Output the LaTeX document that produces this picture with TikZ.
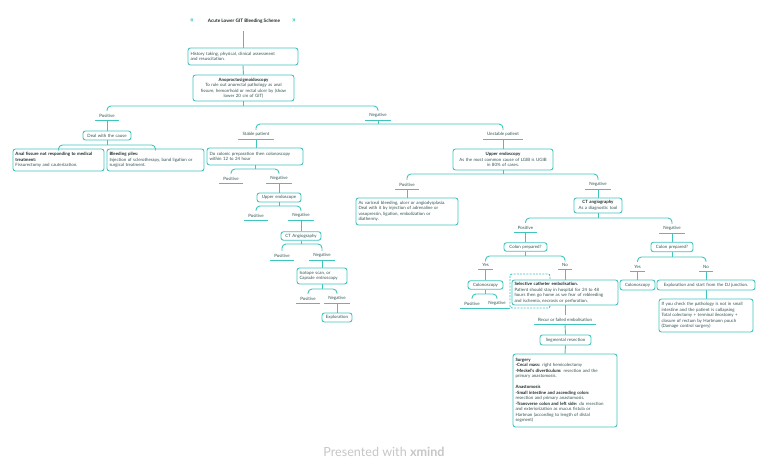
\documentclass[tikz,border=0pt]{standalone}
\usepackage{fontspec}
\setmainfont{Lato}
\usetikzlibrary{calc}
\definecolor{tl}{RGB}{64,196,190}
\definecolor{tx}{RGB}{52,84,84}
\definecolor{tb}{RGB}{28,42,42}
\newcommand{\fs}{\fontsize{4.4}{5.5}\selectfont}
\newcommand{\hb}[1]{\textbf{\color{tb}#1}}
\newcommand{\stem}[2]{\draw[conn] (#1.south) -- (#1.south |- #2);}
\newcommand{\fork}[3]{\draw[conn] (#1.south |- #2) -| (#3.north);}
\tikzset{
 conn/.style={draw=tl, line width=0.9pt, rounded corners=4pt},
 bx/.style={draw=tl, line width=0.9pt, rounded corners=2.5pt, fill=white, font=\fs, text=tx, inner xsep=2.5pt, inner ysep=1.5pt},
 bxl/.style 2 args={bx, text width=#1-5pt, minimum height=#2, align=left},
 bxc/.style 2 args={bx, text width=#1-5pt, minimum height=#2, align=center},
 ulbl/.style={font=\fs, text=tx, inner xsep=4pt, inner ysep=0pt, minimum height=9pt,
   append after command={(\tikzlastnode.south west) edge[draw=tl,line width=0.9pt] (\tikzlastnode.south east)}},
}
\begin{document}
\begin{tikzpicture}[x=1pt,y=-1pt]
\fill[white] (0,0) rectangle (768,473);
\useasboundingbox (0,0) rectangle (768,473);
% title
\node[font=\fontsize{4.7}{5.5}\selectfont\bfseries, text=tb] (title) at (244,21) {Acute Lower GIT Bleeding Scheme};
\node[font=\fontsize{8}{8}\selectfont\bfseries, text=tl] (ql) at (192,21) {«};
\node[font=\fontsize{8}{8}\selectfont\bfseries, text=tl] (qr) at (294,21) {»};
\coordinate (tbot) at (243,31);
% boxes
\node[bxl={110pt}{17pt}] (hist) at (243,56.5) {History taking, physical, clinical assessment\\and resuscitation.};
\node[bxc={101pt}{26pt}] (ano) at (243.5,88) {\hb{Anoproctosigmoidoscopy}\\To rule out anorectal pathology as anal\\fissure, hemorrhoid or rectal ulcer by (show\\lower 20 cm of GIT)};
\node[bxc={48pt}{9pt}] (deal) at (107,135.5) {Deal with the cause};
\node[bxl={91pt}{22pt}] (fiss) at (58.5,160) {\hb{Anal fissure not responding to medical}\\\hb{treatment:}\\Fissurectomy and cauterization.};
\node[bxl={97pt}{22pt}] (piles) at (155.5,160) {\hb{Bleeding piles:}\\Injection of sclerotherapy, band ligation or\\surgical treatment.};
\node[bxl={96pt}{17pt}] (colprep) at (255,156.5) {Do colonic preparation then colonoscopy\\within 12 to 24 hour};
\node[bxc={44pt}{9pt}] (upend) at (279,197.5) {Upper endoscope};
\node[bxc={40pt}{8.5pt}] (ctA) at (301,236) {CT Angiography};
\node[bxl={50pt}{16pt}] (iso) at (322,276) {Isotope scan, or\\Capsule entroscopy};
\node[bxc={30pt}{9pt}] (expl) at (337,317.5) {Exploration};
\node[bxc={100pt}{21pt}] (uendo) at (503,159.5) {\hb{Upper endoscopy}\\As the most common cause of LGIB is UGIB\\in 80\% of cases.};
\node[bxl={102pt}{27pt}] (vari) at (407,211.5) {As variceal bleeding, ulcer or angiodysplasia.\\Deal with it by injection of adrenaline or\\vasopressin, ligation, embolization or\\diathermy.};
\node[bxc={48pt}{15pt}] (cta2) at (598,205.5) {\hb{CT angiography}\\As a diagnostic tool};
\node[bxc={43pt}{8.5pt}] (colp1) at (525.5,247) {Colon prepared?};
\node[bxc={35pt}{8.5pt}] (colo1) at (485.5,285) {Colonoscopy};
\draw[draw=tl, line width=0.9pt, dash pattern=on 2pt off 1.2pt, rounded corners=2pt] (510,274) rectangle (550,308);
\node[bxl={106pt}{25pt}] (sel) at (565,292.5) {\hb{Selective catheter embolisation.}\\Patient should stay in hospital for 24 to 48\\hours then go home as we fear of rebleeding\\and ischemia, necrosis or perforation.};
\node[bxc={51pt}{10pt}] (seg) at (565.5,340) {Segmental resection};
\node[bxl={104pt}{73pt}] (surg) at (565,390.5) {\hb{Surgery}\\\hb{-Cecal mass:} right hemicolectomy\\\hb{-Meckel's diverticulum:} resection and the\\primary anastomosis.\\[5.5pt]\hb{Anastomosis}\\\hb{-Small intestine and ascending colon:}\\resection and primary anastomosis.\\\hb{-Transverse colon and left side:} do resection\\and exteriorization as mucus fistula or\\Hartman (according to length of distal\\segment)};
\node[bxc={42pt}{9.5pt}] (colp2) at (672,247) {Colon prepared?};
\node[bxc={35pt}{10pt}] (colo2) at (637.5,285) {Colonoscopy};
\node[bxc={98pt}{10pt}] (explDJ) at (706,285) {Exploration and start from the DJ junction.};
\node[bxl={94pt}{33pt}] (ifyou) at (706,315.5) {If you check the pathology is not in small\\intestine and the patient is collapsing\\Total colectomy + terminal ileostomy +\\closure of rectum by Hartmann pouch\\(Damage control surgery)};
% labels (center x, underline y - 4.5)
\node[ulbl] (posA) at (107,115.5) {Positive};
\node[ulbl] (negA) at (378,115.5) {Negative};
\node[ulbl] (stable) at (256,134.5) {Stable patient};
\node[ulbl] (unstable) at (503,134.5) {Unstable patient};
\node[ulbl] (posB) at (231,178.5) {Positive};
\node[ulbl] (negB) at (279,178.5) {Negative};
\node[ulbl] (posC) at (256,215.5) {Positive};
\node[ulbl] (negC) at (301,215.5) {Negative};
\node[ulbl] (posD) at (282,255.5) {Positive};
\node[ulbl] (negD) at (322,255.5) {Negative};
\node[ulbl] (posE) at (308,298.5) {Positive};
\node[ulbl] (negE) at (337,298.5) {Negative};
\node[ulbl] (posF) at (407,184.5) {Positive};
\node[ulbl] (negF) at (598,184.5) {Negative};
\node[ulbl] (posG) at (525.5,227.5) {Positive};
\node[ulbl] (negG) at (672,228.5) {Negative};
\node[ulbl] (yesH) at (485.5,264.5) {Yes};
\node[ulbl] (noH) at (565,264.5) {No};
\node[ulbl] (posI) at (472,303.5) {Positive};
\node[ulbl] (negI) at (497,303.5) {Negative};
\node[ulbl] (recur) at (565,319.5) {Recur or failed embolisation};
\node[ulbl] (yesJ) at (637.5,266.5) {Yes};
\node[ulbl] (noJ) at (706,266.5) {No};
% bar levels
\coordinate (bA) at (0,106);
\coordinate (bB) at (0,124);
\coordinate (bC) at (0,145);
\coordinate (bD) at (0,169);
\coordinate (bE) at (0,206);
\coordinate (bF) at (0,244);
\coordinate (bG) at (0,289);
\coordinate (bH) at (0,174);
\coordinate (bI) at (0,218);
\coordinate (bJ) at (0,256);
\coordinate (bK) at (0,294);
\coordinate (bL) at (0,257);
% connectors
\draw[conn] (tbot) -- (hist.north);
\draw[conn] (hist.south) -- (ano.north);
\stem{ano}{bA} \fork{ano}{bA}{posA} \fork{ano}{bA}{negA}
\draw[conn] (posA.south) -- (deal.north);
\stem{deal}{bC} \fork{deal}{bC}{fiss} \fork{deal}{bC}{piles}
\stem{negA}{bB} \fork{negA}{bB}{stable} \fork{negA}{bB}{unstable}
\draw[conn] (stable.south) -- (stable.south |- colprep.north);
\stem{colprep}{bD} \fork{colprep}{bD}{posB} \fork{colprep}{bD}{negB}
\draw[conn] (negB.south) -- (upend.north);
\stem{upend}{bE} \fork{upend}{bE}{posC} \fork{upend}{bE}{negC}
\draw[conn] (negC.south) -- (ctA.north);
\stem{ctA}{bF} \fork{ctA}{bF}{posD} \fork{ctA}{bF}{negD}
\draw[conn] (negD.south) -- (iso.north);
\stem{iso}{bG} \fork{iso}{bG}{posE} \fork{iso}{bG}{negE}
\draw[conn] (negE.south) -- (expl.north);
\draw[conn] (unstable.south) -- (uendo.north);
\stem{uendo}{bH} \fork{uendo}{bH}{posF} \fork{uendo}{bH}{negF}
\draw[conn] (posF.south) -- (vari.north);
\draw[conn] (negF.south) -- (cta2.north);
\stem{cta2}{bI} \fork{cta2}{bI}{posG} \fork{cta2}{bI}{negG}
\draw[conn] (posG.south) -- (colp1.north);
\stem{colp1}{bJ} \fork{colp1}{bJ}{yesH} \fork{colp1}{bJ}{noH}
\draw[conn] (yesH.south) -- (colo1.north);
\stem{colo1}{bK} \fork{colo1}{bK}{posI} \fork{colo1}{bK}{negI}
\draw[conn] (noH.south) -- (sel.north);
\draw[conn] (sel.south) -- (recur.north);
\draw[conn] (recur.south) -- (seg.north);
\draw[conn] (seg.south) -- (surg.north);
\draw[conn] (negG.south) -- (colp2.north);
\stem{colp2}{bL} \fork{colp2}{bL}{yesJ} \fork{colp2}{bL}{noJ}
\draw[conn] (yesJ.south) -- (colo2.north);
\draw[conn] (noJ.south) -- (explDJ.north);
\draw[conn] (explDJ.south) -- (ifyou.north);
% footer
\node[font=\fontsize{12.6}{12.6}\selectfont, text=black!22] (foot) at (384,452) {Presented with \textbf{xmind}};
\end{tikzpicture}
\end{document}
